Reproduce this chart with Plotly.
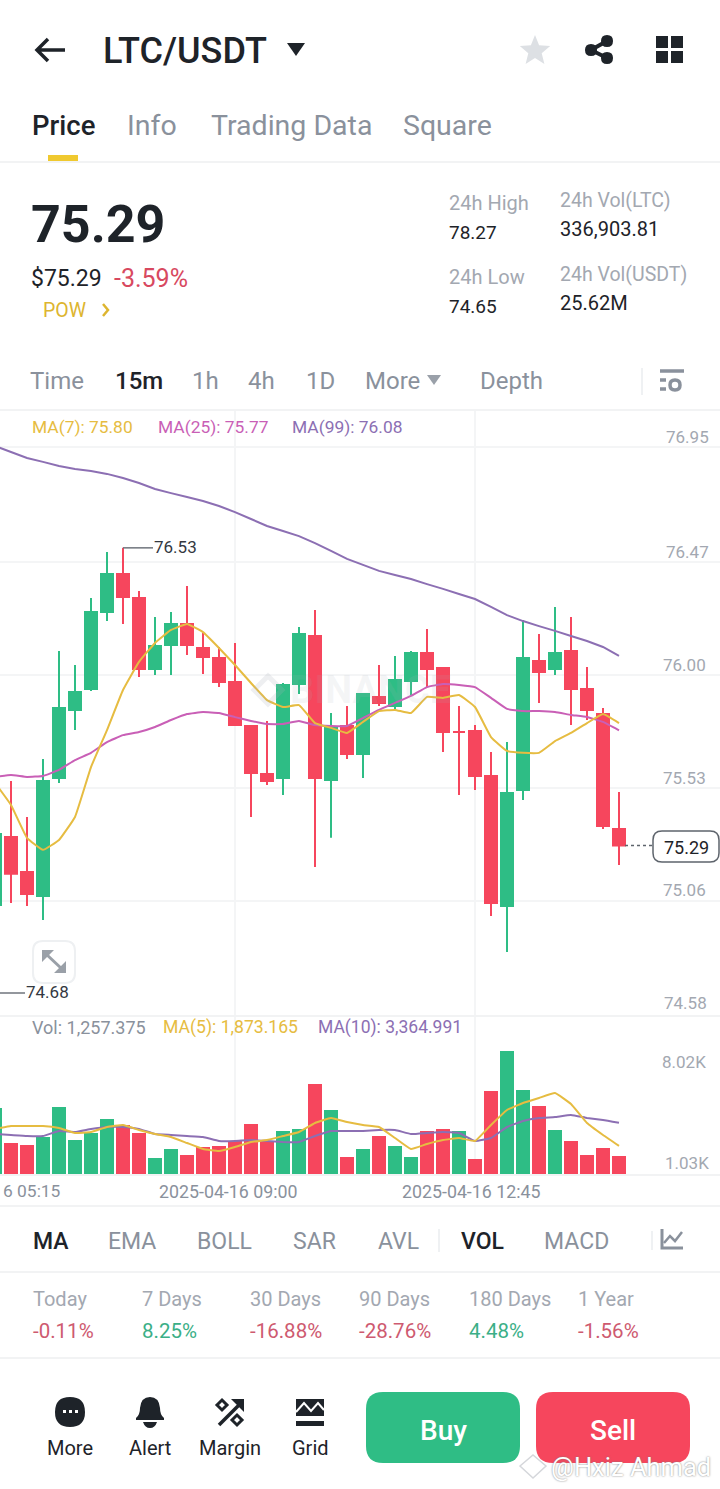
import math
from datetime import datetime, timedelta
import plotly.graph_objects as go

FONT = "Roboto"
DARK = "#1E2329"
GREY = "#8A919C"
LIGHT = "#A3A8B1"
GRID = "#F4F5F6"
UP = "#2EBD85"
DOWN = "#F6465D"
YELLOW = "#E6BC41"
PINK = "#C95FB6"
PURPLE = "#8C6FB3"

# 15m candles, first one sits just off the left edge
start = datetime(2025, 4, 16, 5, 15)
times = [start + timedelta(minutes=15 * i) for i in range(40)]

opens = [75.042, 75.326, 75.180, 75.080, 75.571, 75.855, 75.942, 76.263, 76.421, 76.321,
         76.025, 76.125, 76.213, 76.113, 76.071, 75.971, 75.788, 75.588, 75.571, 75.963,
         76.163, 75.563, 75.788, 75.671, 75.909, 75.871, 75.975, 76.092, 76.030, 75.763,
         75.767, 75.580, 75.038, 75.521, 76.059, 76.025, 76.100, 75.942, 75.838, 75.359]
highs = [75.438, 75.559, 75.409, 75.651, 76.100, 76.042, 76.321, 76.513, 76.530, 76.350,
         76.242, 76.263, 76.371, 76.175, 76.117, 76.134, 75.788, 75.809, 75.967, 76.200,
         76.271, 75.842, 75.871, 75.921, 76.042, 76.080, 76.100, 76.192, 76.030, 75.871,
         75.792, 75.680, 75.721, 76.229, 76.171, 76.284, 76.242, 76.034, 75.863, 75.513]
lows = [74.909, 75.051, 75.038, 74.980, 75.551, 75.771, 75.934, 76.225, 76.213, 75.992,
        76.000, 76.000, 76.084, 76.005, 75.950, 75.792, 75.409, 75.542, 75.501, 75.921,
        75.201, 75.322, 75.651, 75.571, 75.871, 75.859, 75.917, 75.950, 75.680, 75.501,
        75.521, 74.997, 74.847, 75.480, 75.884, 76.000, 75.792, 75.813, 75.359, 75.209]
closes = [75.338, 75.172, 75.088, 75.559, 75.863, 75.930, 76.263, 76.421, 76.325, 76.025,
          76.121, 76.213, 76.125, 76.075, 75.971, 75.792, 75.592, 75.559, 75.959, 76.171,
          75.571, 75.784, 75.671, 75.921, 75.884, 75.980, 76.092, 76.025, 75.763, 75.763,
          75.580, 75.051, 75.509, 76.071, 76.013, 76.092, 75.942, 75.855, 75.371, 75.290]

ma7 = [75.551, 75.459, 75.322, 75.272, 75.313, 75.409, 75.617, 75.771, 75.938, 76.055,
       76.134, 76.188, 76.213, 76.179, 76.113, 76.042, 75.967, 75.896, 75.867, 75.875,
       75.800, 75.780, 75.759, 75.805, 75.850, 75.855, 75.842, 75.909, 75.905, 75.917,
       75.867, 75.742, 75.684, 75.676, 75.676, 75.725, 75.759, 75.800, 75.838, 75.800]
ma25 = [75.576, 75.584, 75.576, 75.580, 75.605, 75.646, 75.676, 75.721, 75.750, 75.763,
        75.784, 75.813, 75.838, 75.846, 75.842, 75.825, 75.809, 75.796, 75.796, 75.809,
        75.792, 75.788, 75.788, 75.821, 75.855, 75.884, 75.913, 75.950, 75.963, 75.959,
        75.950, 75.905, 75.859, 75.850, 75.850, 75.846, 75.834, 75.825, 75.805, 75.770]
ma99 = [76.954, 76.929, 76.904, 76.888, 76.871, 76.858, 76.850, 76.838, 76.821, 76.800,
        76.775, 76.758, 76.742, 76.725, 76.704, 76.679, 76.650, 76.621, 76.600, 76.579,
        76.550, 76.517, 76.484, 76.459, 76.434, 76.417, 76.400, 76.379, 76.359, 76.338,
        76.317, 76.284, 76.250, 76.225, 76.204, 76.184, 76.163, 76.142, 76.117, 76.080]

volumes = [4320, 2063, 1934, 2450, 4384, 2256, 2708, 3610, 3224, 2708,
           1096, 1676, 1289, 1805, 1870, 2192, 3288, 2192, 2837, 2966,
           5867, 4191, 1160, 1676, 2514, 1870, 1160, 2837, 2966, 2837,
           1032, 5415, 8020, 5480, 4448, 2901, 2192, 1289, 1741, 1257.375]
vol_ma5 = [2966, 3159, 3159, 3159, 3030, 2708, 2772, 3095, 3224, 2901,
           2643, 2450, 2063, 1676, 1547, 1805, 2128, 2256, 2514, 2772,
           3352, 3675, 3417, 3224, 3095, 2385, 1676, 1999, 2256, 2385,
           2192, 3224, 4191, 4642, 4964, 5287, 4577, 3352, 2579, 1873.165]
vol_ma10 = [2643, 2579, 2514, 2514, 2837, 2772, 2966, 3095, 3095, 2966,
            2643, 2579, 2514, 2450, 2192, 2192, 2256, 2192, 2128, 2128,
            2514, 2837, 2837, 2837, 2901, 2901, 2643, 2708, 2772, 2708,
            2192, 2385, 3095, 3481, 3675, 3739, 3868, 3675, 3546, 3364.991]

price_ticks = [76.95, 76.47, 76.00, 75.53, 75.06, 74.58]
volume_ticks = [8020, 1030]
volume_tick_labels = ["8.02K", "1.03K"]
time_ticks = [datetime(2025, 4, 16, 9, 0), datetime(2025, 4, 16, 12, 45)]

W, H = 720, 1489
X_RANGE = [datetime(2025, 4, 16, 5, 19, 41), datetime(2025, 4, 16, 16, 34, 41)]
bar_colors = [UP if c >= o else DOWN for o, c in zip(opens, closes)]

fig = go.Figure()
fig.add_trace(go.Candlestick(
    x=times, open=opens, high=highs, low=lows, close=closes,
    increasing=dict(line=dict(color=UP, width=2), fillcolor=UP),
    decreasing=dict(line=dict(color=DOWN, width=2), fillcolor=DOWN),
    xaxis="x", yaxis="y", showlegend=False, hoverinfo="skip",
))
for vals, col, soft in [(ma99, PURPLE, 0), (ma25, PINK, 0.3), (ma7, YELLOW, 0.3)]:
    fig.add_trace(go.Scatter(x=times, y=vals, mode="lines", xaxis="x", yaxis="y",
                             line=dict(color=col, width=2, shape="spline", smoothing=soft),
                             showlegend=False, hoverinfo="skip"))
fig.add_trace(go.Bar(x=times, y=volumes, marker=dict(color=bar_colors, line_width=0),
                     width=14 / 16 * 15 * 60000, xaxis="x2", yaxis="y2",
                     showlegend=False, hoverinfo="skip"))
for vals, col in [(vol_ma10, PURPLE), (vol_ma5, YELLOW)]:
    fig.add_trace(go.Scatter(x=times, y=vals, mode="lines", xaxis="x2", yaxis="y2",
                             line=dict(color=col, width=2, shape="spline", smoothing=0.3),
                             showlegend=False, hoverinfo="skip"))

shapes = []
annotations = []


def txt(x, y, s, size, color, anchor="left", weight=400, **kw):
    if anchor == "left":
        x -= 1
    annotations.append(dict(x=x, y=y, xref="x3", yref="y3", text=s, showarrow=False,
                            xanchor=anchor, yanchor="middle", borderpad=0,
                            font=dict(family=FONT, size=size, color=color, weight=weight, **kw)))


def fill(path, color):
    shapes.append(dict(type="path", path=path, xref="x3", yref="y3", fillcolor=color,
                       line=dict(width=0), layer="above"))


def stroke(path, color, width=2, dash="solid"):
    shapes.append(dict(type="path", path=path, xref="x3", yref="y3", fillcolor="rgba(0,0,0,0)",
                       line=dict(color=color, width=width, dash=dash), layer="above"))


def rrect(x0, y0, x1, y1, r):
    return (f"M{x0 + r} {y0} H{x1 - r} Q{x1} {y0} {x1} {y0 + r} V{y1 - r} Q{x1} {y1} {x1 - r} {y1} "
            f"H{x0 + r} Q{x0} {y1} {x0} {y1 - r} V{y0 + r} Q{x0} {y0} {x0 + r} {y0} Z")


def circle(cx, cy, r):
    return rrect(cx - r, cy - r, cx + r, cy + r, r)


def sep(y, x0=0, x1=W):
    stroke(f"M{x0} {y} H{x1}", "#F2F3F4", 2)


# header
stroke("M37 50 H65 M48 39 L37 50 L48 61", DARK, 3.5)
txt(103, 51, "LTC/USDT", 36, DARK, weight=500)
fill("M287 43 H305 L296 56 Z", DARK)
star = []
for k in range(10):
    r = 16 if k % 2 == 0 else 7
    a = -math.pi / 2 + k * math.pi / 5
    star.append(f"{535 + r * math.cos(a):.1f} {51 + r * math.sin(a):.1f}")
fill("M" + " L".join(star) + " Z", "#DDE0E4")
stroke("M607 41 L591 50 L607 58", DARK, 4)
for cx, cy in [(607, 41), (591, 50), (607, 58)]:
    fill(circle(cx, cy, 6), DARK)
for x0, y0 in [(656, 36), (671, 36), (656, 51), (671, 51)]:
    fill(f"M{x0} {y0} H{x0 + 12} V{y0 + 12} H{x0} Z", DARK)

# tabs
txt(32, 125, "Price", 27.5, DARK, weight=500)
txt(127, 125, "Info", 28.5, GREY)
txt(211, 125, "Trading Data", 28.5, GREY)
txt(403, 125, "Square", 28.5, GREY)
fill("M48 155 H78 V162 H48 Z", "#F0C92F")
sep(162)

# price summary
txt(31, 224, "75.29", 52, DARK, weight=700)
txt(31, 278, "$75.29", 23, DARK)
txt(114, 278, "-3.59%", 25, "#D8495F")
txt(43, 310, "POW", 19.5, "#DDB530")
stroke("M103 304 L108 310 L103 316", "#DDB530", 2.5)
for x, y, label, value in [(449, 203, "24h High", "78.27"), (449, 277, "24h Low", "74.65")]:
    txt(x, y, label, 20, LIGHT)
    txt(x, y + 29, value, 19, DARK)
for x, y, label, value in [(560, 200, "24h Vol(LTC)", "336,903.81"), (560, 274, "24h Vol(USDT)", "25.62M")]:
    txt(x, y, label, 19.5, LIGHT)
    txt(x, y + 29, value, 20, DARK)

# interval row
for x, s, col, w in [(30, "Time", GREY, 400), (115, "15m", DARK, 500), (192, "1h", GREY, 400),
                     (248, "4h", GREY, 400), (306, "1D", GREY, 400), (365, "More", GREY, 400),
                     (480, "Depth", GREY, 400)]:
    txt(x, 381, s, 24, col, weight=w)
fill("M427 375 H441 L434 385 Z", "#9AA0A9")
stroke("M642 368 V395", "#EAECEF", 1.5)
stroke("M660 371 H684", GREY, 3.5)
stroke("M660 380 H666 M660 389 H666", GREY, 3.5)
stroke(circle(675, 385, 5), GREY, 3.5)
sep(410)

# legends
txt(32, 427, "MA(7): 75.80", 17.4, YELLOW)
txt(158, 427, "MA(25): 75.77", 17.4, PINK)
txt(292, 427, "MA(99): 76.08", 17.4, PURPLE)
txt(32, 1027, "Vol: 1,257.375", 18, GREY)
txt(163, 1027, "MA(5): 1,873.165", 17.6, YELLOW)
txt(318, 1027, "MA(10): 3,364.991", 17.5, PURPLE)

# axis labels sit just above their gridlines
label_right = [710, 710, 707, 707, 707, 708]
label_shift = [10, 10, 10, 10, 11, 13]
for v, x, dy in zip(price_ticks, label_right, label_shift):
    annotations.append(dict(x=x, y=v, xref="x3", yref="y", text=f"{v:.2f}", showarrow=False,
                            xanchor="right", yanchor="middle", yshift=dy, borderpad=0,
                            font=dict(family=FONT, size=17, color=LIGHT)))
for v, s, x, dy in zip(volume_ticks, volume_tick_labels, [707, 710], [-11, -4]):
    annotations.append(dict(x=x, y=v, xref="x3", yref="y2", text=s, showarrow=False,
                            xanchor="right", yanchor="middle", yshift=dy, borderpad=0,
                            font=dict(family=FONT, size=17, color=LIGHT)))
txt(3, 1191, "6 05:15", 17.4, GREY)
txt(159, 1191, "2025-04-16 09:00", 17.8, GREY)
txt(402, 1191, "2025-04-16 12:45", 17.8, GREY)

# faint exchange mark behind the candles
annotations.append(dict(x=370, y=690, xref="x3", yref="y3", text="BINANCE", showarrow=False,
                        font=dict(family=FONT, size=38, color="rgba(170,175,185,0.13)", weight=700)))
stroke("M268 676 L282 690 L268 704 L254 690 Z", "rgba(170,175,185,0.2)", 5)

# high / low leaders and last price box
peak = highs.index(max(highs))
shapes.append(dict(type="path", path="M0,0 H30", xref="x", yref="y", xsizemode="pixel",
                   ysizemode="pixel", xanchor=times[peak], yanchor=highs[peak],
                   line=dict(color="#6F747C", width=1.5), layer="above"))
annotations.append(dict(x=times[peak], y=highs[peak], xref="x", yref="y", text="76.53", showarrow=False,
                        xanchor="left", xshift=30, yshift=1, yanchor="middle", borderpad=0,
                        font=dict(family=FONT, size=17, color="#33383F")))
stroke("M0 993 H25", "#6F747C", 1.5)
annotations.append(dict(x=25, y=74.68, xref="x3", yref="y", text="74.68", showarrow=False,
                        xanchor="left", yanchor="middle", borderpad=0,
                        font=dict(family=FONT, size=17, color="#33383F")))
shapes.append(dict(type="line", x0=625, x1=653, y0=closes[-1], y1=closes[-1], xref="x3", yref="y",
                   line=dict(color="#5E646C", width=1.5, dash="3px,3px"), layer="above"))
fill(rrect(653, 831, 719, 862, 9), "#FFFFFF")
stroke(rrect(653, 831, 719, 862, 9), "#5E646C", 1.5)
annotations.append(dict(x=686, y=closes[-1], xref="x3", yref="y", text="75.29", showarrow=False,
                        xanchor="center", yanchor="middle", yshift=-2, borderpad=0,
                        font=dict(family=FONT, size=18, color=DARK)))

# expand button
stroke(rrect(33, 941, 75, 983, 10), "#EEF0F2", 2)
fill("M42 950 H54 L42 962 Z M66 973 H54 L66 961 Z", "#9AA0A8")
stroke("M46 954 L62 969", "#9AA0A8", 3)

sep(1016)
sep(1175)
sep(1206)

# indicator row
for x, s, col, w in [(33, "MA", DARK, 500), (108, "EMA", GREY, 400), (197, "BOLL", GREY, 400),
                     (293, "SAR", GREY, 400), (378, "AVL", GREY, 400), (461, "VOL", DARK, 500),
                     (544, "MACD", GREY, 400)]:
    txt(x, 1241, s, 23, col, weight=w)
stroke("M439 1229 V1252", "#EAECEF", 1.5)
stroke("M652 1231 V1250", "#EAECEF", 1.5)
stroke("M662 1229 V1248 H683", GREY, 3)
stroke("M664 1243 L670 1236 L675 1241 L682 1232", GREY, 2.5)
sep(1272)

# returns
periods = ["Today", "7 Days", "30 Days", "90 Days", "180 Days", "1 Year"]
changes = ["-0.11%", "8.25%", "-16.88%", "-28.76%", "4.48%", "-1.56%"]
period_x = [33, 142, 250, 359, 469, 578]
for x, p, c in zip(period_x, periods, changes):
    txt(x, 1299, p, 20, LIGHT)
    txt(x, 1331, c, 20.5, "#3BAF87" if not c.startswith("-") else "#CE5A70")
sep(1358)

# bottom bar
fill(circle(70, 1412, 15), DARK)
for x in [63, 69, 75]:
    fill(f"M{x} 1410 H{x + 3} V1413 H{x} Z", "#FFFFFF")
fill("M136 1418 Q140 1415 140 1408 Q141 1397 150 1397 Q159 1397 160 1408 Q160 1415 164 1418 V1420 H136 Z "
     "M143 1422 H157 Q155 1428 150 1428 Q145 1428 143 1422 Z", DARK)
stroke("M219 1425 L241 1403", DARK, 3.5)
fill("M231 1399 H244 V1412 Z", DARK)
stroke("M222 1400 L227 1405 L222 1410 L217 1405 Z", DARK, 3)
stroke("M237 1415 L242 1420 L237 1425 L232 1420 Z", DARK, 3)
fill("M296 1399 H324 V1416 H296 Z", DARK)
stroke("M296 1412 L304 1403 L311 1411 L318 1403 L324 1410", "#FFFFFF", 2)
fill("M296 1421 H324 V1426 H296 Z", DARK)
for x, s in [(70, "More"), (150, "Alert"), (230, "Margin"), (310, "Grid")]:
    txt(x, 1448, s, 20, DARK, anchor="center")
fill(rrect(366, 1392, 520, 1463, 17), "#2FBD85")
fill(rrect(536, 1392, 690, 1463, 17), "#F6465D")
txt(443, 1430, "Buy", 28, "#FFFFFF", anchor="center", weight=500)
txt(613, 1430, "Sell", 28, "#FFFFFF", anchor="center", weight=500)

# repost watermark
stroke("M520 1466 L533 1455 L546 1466 L533 1478 Z", "#D5D7DB", 1.5)
txt(551, 1467, "@Hxiz Ahmad", 25.5, "#FFFFFF", shadow="0 0 2px #777")

fig.update_layout(
    width=W, height=H, margin=dict(l=0, r=0, t=0, b=0), autosize=False,
    paper_bgcolor="#FFFFFF", plot_bgcolor="rgba(0,0,0,0)", showlegend=False,
    boxgap=0.25, boxgroupgap=0, bargap=0,
    xaxis=dict(domain=[0, 1], range=X_RANGE, anchor="y", type="date", rangeslider=dict(visible=False),
               tickvals=time_ticks, showticklabels=False, showgrid=True, gridcolor=GRID, gridwidth=1.5,
               zeroline=False, ticks=""),
    yaxis=dict(domain=[1 - 1016 / H, 1 - 411 / H], range=[74.58, 77.10], anchor="x",
               tickvals=price_ticks, showticklabels=False, showgrid=True, gridcolor=GRID, gridwidth=1.5,
               zeroline=False, ticks=""),
    xaxis2=dict(domain=[0, 1], range=X_RANGE, anchor="y2", type="date",
                tickvals=time_ticks, showticklabels=False, showgrid=True, gridcolor=GRID, gridwidth=1.5,
                zeroline=False, ticks=""),
    yaxis2=dict(domain=[1 - 1175 / H, 1 - 1016 / H], range=[0, 10251], anchor="x2",
                showticklabels=False, showgrid=False, zeroline=False, ticks=""),
    xaxis3=dict(domain=[0, 1], range=[0, W], anchor="y3", visible=False, fixedrange=True),
    yaxis3=dict(domain=[0, 1], range=[H, 0], anchor="x3", visible=False, fixedrange=True),
    shapes=shapes, annotations=annotations,
)

fig.write_html("out.html", config=dict(displayModeBar=False),
               post_script="document.body.style.margin='0';document.body.style.overflow='hidden';")
